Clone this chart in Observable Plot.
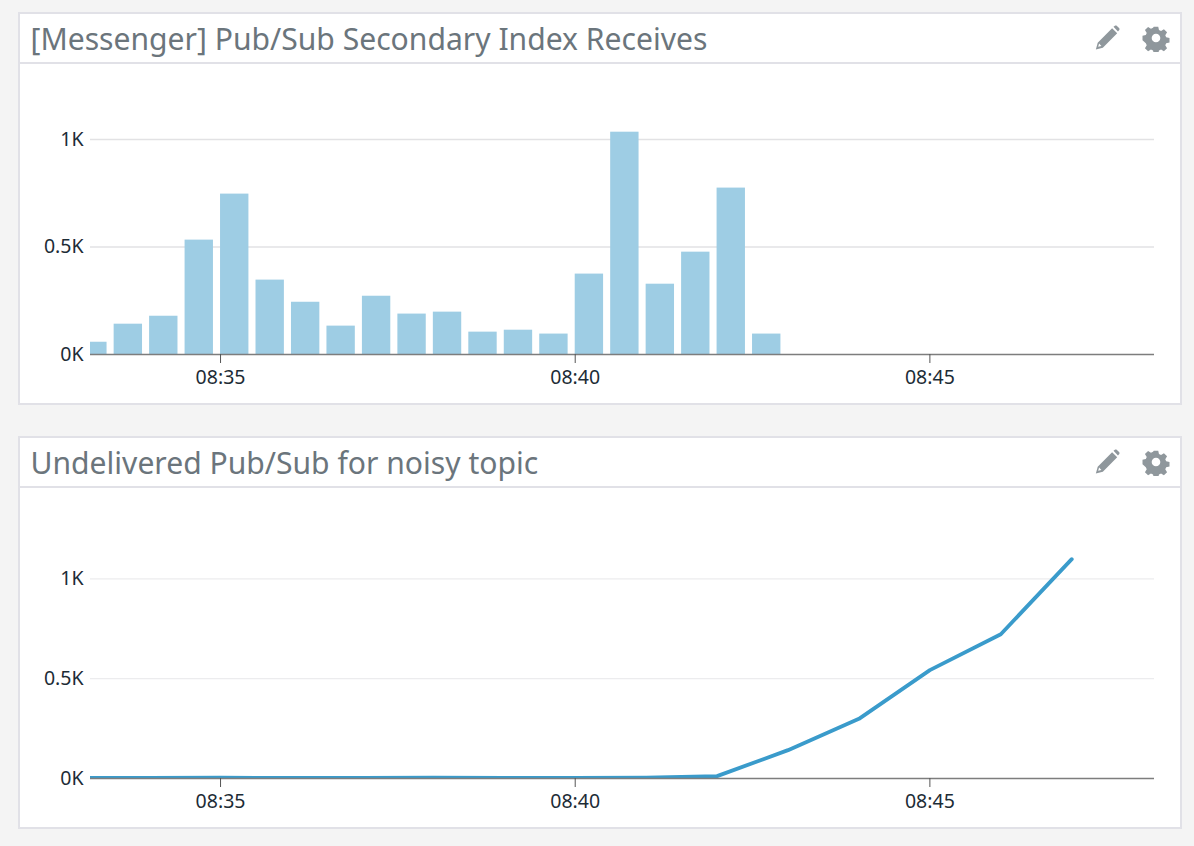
<!DOCTYPE html>
<html><head><meta charset="utf-8">
<script src="https://cdn.jsdelivr.net/npm/d3@7"></script>
<script src="https://cdn.jsdelivr.net/npm/@observablehq/plot@0.6"></script>
<style>
html,body{margin:0;padding:0;background:#f4f4f4;width:1194px;height:846px;overflow:hidden}
.panel{position:absolute;left:18px;width:1160px;height:389px;background:#fff;border:2px solid #e1e1e7}
.head{position:absolute;left:0;top:0;right:0;height:48px;border-bottom:2px solid #e1e1e7}
.title{position:absolute;left:10.500px;top:4.500px;font:30.100px/40px "Noto Sans",sans-serif;color:#6b757c;white-space:nowrap}
.icon{position:absolute;top:10px;width:28px;height:28px;fill:#8f979c}
.pencil{top:11px;width:26px;height:26px;left:1074px}
.chart{position:absolute;left:0;top:50px}
svg text{font-family:"Noto Sans",sans-serif}
</style></head><body>
<div class="panel" style="top:12px"><div class="head"><div class="title">[Messenger] Pub/Sub Secondary Index Receives</div>
<svg class="icon pencil" viewBox="0 0 28 28"><path d="M2 26.500l2-7.500L19.500 3.500l5.500 5.500L9.500 24.500zM5.500 20l-1 3.500 3.500-1zM21 2l1.500-1.200c.8-.5 1.500-.4 2.200.2l2.300 2.300c.6.700.7 1.400.2 2.200L25.800 7z" fill-rule="evenodd"/></svg>
<svg class="icon" style="left:1122px" viewBox="0 0 28 28"><use href="#gear"/></svg></div><div class="chart" id="c1"></div></div>
<div class="panel" style="top:436px"><div class="head"><div class="title">Undelivered Pub/Sub for noisy topic</div>
<svg class="icon pencil" viewBox="0 0 28 28"><path d="M2 26.500l2-7.500L19.500 3.500l5.500 5.500L9.500 24.500zM5.500 20l-1 3.500 3.500-1zM21 2l1.500-1.200c.8-.5 1.500-.4 2.200.2l2.300 2.300c.6.700.7 1.400.2 2.200L25.800 7z" fill-rule="evenodd"/></svg>
<svg class="icon" style="left:1122px" viewBox="0 0 28 28"><use href="#gear"/></svg></div><div class="chart" id="c2"></div></div>
<svg width="0" height="0" style="position:absolute"><defs><path id="gear" fill-rule="evenodd" d="M11.500 1.500h5l.8 3.700 2.300 1 3.200-2 3.500 3.500-2 3.200 1 2.300 3.700.8v5l-3.700.8-1 2.300 2 3.200-3.500 3.500-3.200-2-2.300 1-.8 3.700h-5l-.8-3.700-2.300-1-3.200 2-3.500-3.500 2-3.200-1-2.300L-1 16.500v-5l3.700-.8 1-2.300-2-3.200 3.500-3.500 3.200 2 2.300-1zM14 9.200a4.800 4.800 0 1 0 0 9.600 4.800 4.800 0 0 0 0-9.600z" transform="translate(1.400 1.400) scale(.9)"/></defs></svg>
<script>
const barTimes = ["08:33:00","08:33:30","08:34:00","08:34:30","08:35:00","08:35:30","08:36:00","08:36:30","08:37:00","08:37:30","08:38:00","08:38:30","08:39:00","08:39:30","08:40:00","08:40:30","08:41:00","08:41:30","08:42:00","08:42:30"];
const barValues = [0.057,0.141,0.178,0.532,0.746,0.346,0.243,0.132,0.271,0.188,0.197,0.104,0.113,0.095,0.374,1.034,0.327,0.476,0.774,0.095];
const lineTimes = ["08:33:00","08:34:00","08:35:00","08:36:00","08:37:00","08:38:00","08:39:00","08:40:00","08:41:00","08:42:00","08:43:00","08:44:00","08:45:00","08:46:00","08:47:00"];
const lineValues = [0.003,0.003,0.004,0.003,0.003,0.004,0.003,0.003,0.004,0.012,0.142,0.299,0.543,0.723,1.099];
const xTicks = ["08:35:00","08:40:00","08:45:00"];
const yTicks = [0,0.5,1];
const xDomain = ["08:33:10","08:48:10"];
const yDomain = [0,1.2];

const parse = d3.utcParse("%H:%M:%S");
const barData = barTimes.map((t,i)=>({x1:parse(t),x2:new Date(+parse(t)+24000),v:barValues[i]}));
const lineData = lineTimes.map((t,i)=>({x:parse(t),v:lineValues[i]}));
function base(marginTop, gridColor, marks){
  return Plot.plot({
    width:1156,height:340,marginLeft:70,marginRight:22,marginTop,marginBottom:50,
    style:{background:"transparent",fontSize:"19.500px",color:"#1d2c36",fontFamily:"'Noto Sans',sans-serif"},
    x:{type:"utc",domain:xDomain.map(parse)},
    y:{domain:yDomain},
    marks:[
      Plot.ruleY(yTicks.slice(1),{stroke:gridColor,strokeWidth:1.300}),
      ...marks,
      Plot.ruleY([0],{stroke:"#7d7d7d",strokeWidth:1.300}),
      Plot.axisX({ticks:xTicks.map(parse),tickFormat:d3.utcFormat("%H:%M"),tickSize:9,tickPadding:7,stroke:"#555",label:null,fontSize:19.5,fill:"#1d2c36"}),
      Plot.axisY({ticks:yTicks,tickFormat:d=>d+"K",tickSize:0,tickPadding:7,label:null,fontSize:19.5,fill:"#1d2c36"})
    ]
  });
}
document.getElementById("c1").append(base(32,"#e2e2e4",[
  Plot.rectY(barData,{x1:"x1",x2:"x2",y1:0,y2:"v",fill:"#9ecde4",clip:true})
]));
document.getElementById("c2").append(base(50.5,"#ececee",[
  Plot.lineY(lineData,{x:"x",y:"v",stroke:"#3a9bcb",strokeWidth:3.800,strokeLinecap:"round",strokeLinejoin:"round",clip:true})
]));
</script>
</body></html>
